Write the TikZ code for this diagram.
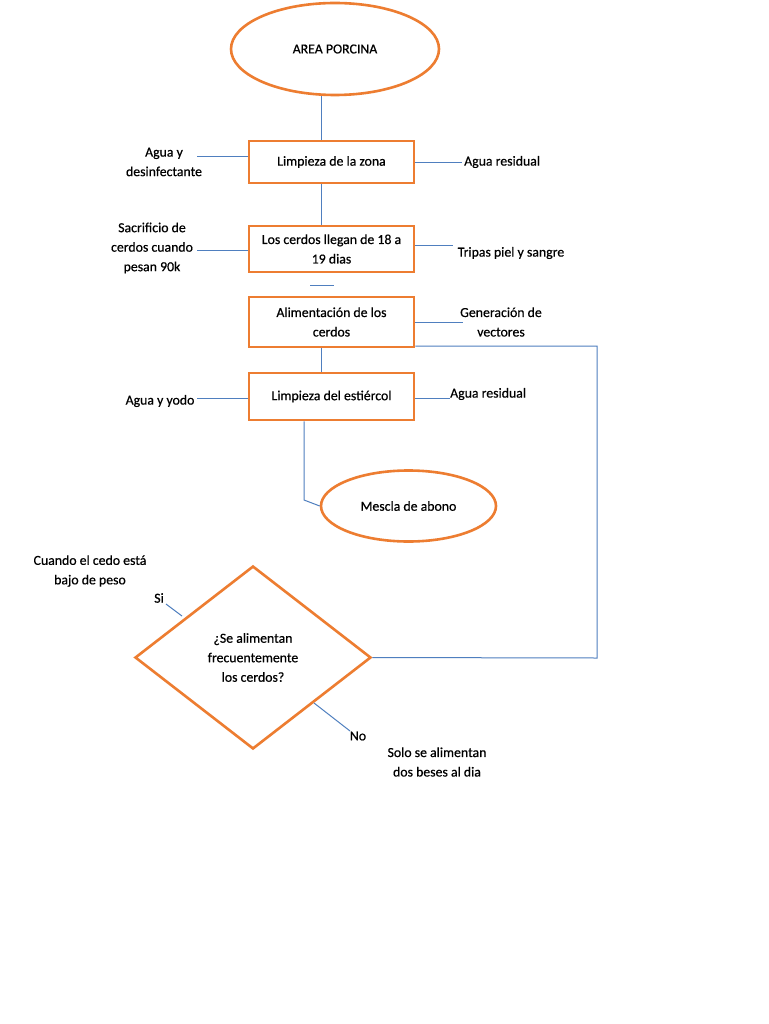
\documentclass[tikz,border=0pt]{standalone}
\usepackage{fontspec}
\setmainfont{Carlito}[FakeBold=0.5]
\usetikzlibrary{shapes.geometric}
\definecolor{orng}{HTML}{ED7D31}
\definecolor{blu}{HTML}{4F7FBF}
\tikzset{
  box/.style={draw=orng, line width=2.6pt, minimum width=165pt, minimum height=44pt, align=center, inner sep=2pt},
  oval/.style={draw=orng, line width=2.6pt, ellipse, align=center},
  lbl/.style={align=center, inner sep=0pt},
  conn/.style={draw=blu, line width=1pt},
}
\begin{document}
\begin{tikzpicture}[x=1pt, y=-1pt, font=\fontsize{13.8}{19.5}\selectfont]
\useasboundingbox[fill=white] (0,0) rectangle (768,1024);
% main nodes
\node[oval, minimum width=208pt, minimum height=92pt] (area) at (335,49) {AREA PORCINA};
\node[box, minimum height=42pt] (b1) at (331.5,162) {Limpieza de la zona};
\node[box, minimum height=46pt] (b2) at (331.5,249) {Los cerdos llegan de 18 a\\19 dias};
\node[box, minimum height=50pt] (b3) at (331.5,322) {Alimentación de los\\cerdos};
\node[box, minimum height=47pt] (b4) at (331.5,396.5) {Limpieza del estiércol};
\node[oval, minimum width=175pt, minimum height=71pt] (abono) at (408.5,506) {Mescla de abono};
\node[draw=orng, line width=2.6pt, shape=diamond, aspect=1.29, minimum width=236pt, minimum height=183pt, align=center, inner sep=0pt] (dec) at (253,657.5) {¿Se alimentan\\frecuentemente\\los cerdos?};
% side labels
\node[lbl] (l1) at (164,162) {Agua y\\desinfectante};
\node[lbl, anchor=west] (r1) at (464,162) {Agua residual};
\node[lbl] (l2) at (152,248) {Sacrificio de\\cerdos cuando\\pesan 90k};
\node[lbl] (r2) at (511,253) {Tripas piel y sangre};
\node[lbl] (r3) at (501,322) {Generación de\\vectores};
\node[lbl] (l4) at (160,401) {Agua y yodo};
\node[lbl, anchor=west] (r4) at (450,394) {Agua residual};
\node[lbl] (cuando) at (90,571) {Cuando el cedo está\\bajo de peso};
\node[lbl] (si) at (159,598) {Si};
\node[lbl] (no) at (358,736) {No};
\node[lbl] (solo) at (437,762) {Solo se alimentan\\dos beses al dia};
% coordinates for free ends
\coordinate (c1l) at (197,157);
\coordinate (c1r) at (462,163);
\coordinate (c2l) at (197,250);
\coordinate (c2r) at (453,245);
\coordinate (c3r) at (463,322);
\coordinate (c4l) at (197,398);
\coordinate (c4r) at (450,398);
\coordinate (dashA) at (310,285);
\coordinate (dashB) at (334,285);
\coordinate (loopA) at (597,346);
\coordinate (loopB) at (597,658);
\coordinate (corner) at (304,500);
\coordinate (siA) at (166,604);
\coordinate (siB) at (182,616);
\coordinate (noA) at (314,703);
\coordinate (noB) at (350,731);
% connectors
\draw[conn] (area.south -| 321,0) -- (b1.north -| 321,0);
\draw[conn] (b1.south -| 321,0) -- (b2.north -| 321,0);
\draw[conn] (dashA) -- (dashB);
\draw[conn] (b3.south -| 321,0) -- (b4.north -| 321,0);
\draw[conn] (c1l) -- (c1l -| b1.west);
\draw[conn] (c1r -| b1.east) -- (c1r);
\draw[conn] (c2l) -- (c2l -| b2.west);
\draw[conn] (c2r -| b2.east) -- (c2r);
\draw[conn] (c3r -| b3.east) -- (c3r);
\draw[conn] (c4l) -- (c4l -| b4.west);
\draw[conn] (c4r -| b4.east) -- (c4r);
\draw[conn] (loopA -| b3.east) -- (loopA) -- (loopB) -- (dec.east);
\draw[conn] (b4.south -| corner) -- (corner) -- (abono.west);
\draw[conn] (siA) -- (siB);
\draw[conn] (noA) -- (noB);
\end{tikzpicture}
\end{document}
